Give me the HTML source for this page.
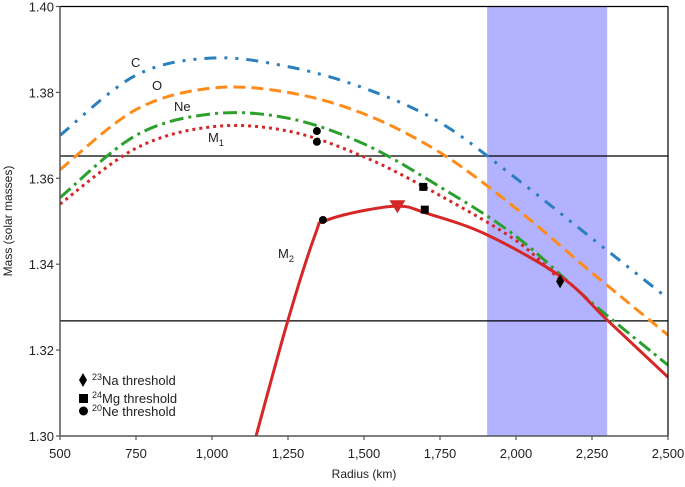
<!DOCTYPE html>
<html><head><meta charset="utf-8"><style>
body{margin:0;background:#fff;}
svg{display:block;font-family:"Liberation Sans",Arial,sans-serif;}
</style></head><body>
<svg id="chart" width="685" height="487" viewBox="0 0 685 487" xmlns="http://www.w3.org/2000/svg"></svg>
<script>
const xTicks=[500,750,1000,1250,1500,1750,2000,2250,2500];
const xTickLabels=["500","750","1,000","1,250","1,500","1,750","2,000","2,250","2,500"];
const yTicks=[1.30,1.32,1.34,1.36,1.38,1.40];
const yTickLabels=["1.30","1.32","1.34","1.36","1.38","1.40"];
const radiusC=[500,750,1000,1250,1500,1750,2000,2250,2500];
const massC=[1.370,1.384,1.388,1.386,1.381,1.373,1.360,1.346,1.332];
const radiusO=[500,750,1000,1250,1500,1750,2000,2250,2500];
const massO=[1.362,1.376,1.381,1.380,1.375,1.366,1.353,1.338,1.3235];
const radiusNe=[500,750,1000,1250,1500,1750,2000,2250,2500];
const massNe=[1.3555,1.370,1.375,1.374,1.368,1.358,1.3465,1.331,1.3165];
const radiusM1=[500,750,1000,1250,1500,1750,2000,2150];
const massM1=[1.354,1.367,1.372,1.371,1.365,1.356,1.3455,1.336];
const radiusM2=[1145,1250,1340,1370,1500,1620,1700,1900,2150,2300,2500];
const massM2=[1.300,1.327,1.347,1.350,1.3525,1.3535,1.352,1.347,1.337,1.327,1.3137];
const hLines=[1.3652,1.3268];
const band=[1905,2300];
const circles=[[1345,1.371],[1345,1.3685],[1365,1.3503]];
const squares=[[1695,1.358],[1700,1.3527]];
const diamonds=[[2145,1.336]];
const triangle=[1610,1.3535];

const X0=60,X1=668,Y0=436,Y1=6.5;
const xs=r=>X0+(r-500)*(X1-X0)/2000;
const ys=m=>Y0-(m-1.30)*(Y0-Y1)/0.10;
const svg=document.getElementById('chart');
const NS='http://www.w3.org/2000/svg';
function mk(t,a,p){const e=document.createElementNS(NS,t);for(const k in a)e.setAttribute(k,a[k]);(p||svg).appendChild(e);return e;}

let e=mk('rect',{x:xs(band[0]),y:Y1,width:xs(band[1])-xs(band[0]),height:Y0-Y1,fill:'#b2b2ff'});


hLines.forEach((m,i)=>{const l=mk('line',{x1:X0,x2:X1,y1:ys(m),y2:ys(m),stroke:'#000','stroke-width':1.3});

});

function series(rs,ms,color,dash,name,cap){
 let pts=rs.map((r,i)=>[xs(r),ys(ms[i])]);let p='M'+pts[0];
 for(let i=0;i<pts.length-1;i++){const a=pts[i-1]||pts[i],b=pts[i],c=pts[i+1],dd=pts[i+2]||c;
  p+=' C'+(b[0]+(c[0]-a[0])/6)+','+(b[1]+(c[1]-a[1])/6)+' '+(c[0]-(dd[0]-b[0])/6)+','+(c[1]-(dd[1]-b[1])/6)+' '+c[0]+','+c[1];}
 const el=mk('path',{d:p,fill:'none',stroke:color,'stroke-width':3,'stroke-dasharray':dash,'stroke-linecap':cap||'butt'});
 
 
}
const clip=mk('clipPath',{id:'c'});mk('rect',{x:X0,y:Y1,width:X1-X0,height:Y0-Y1},clip);
series(radiusC,massC,'#2a7fbf','12 8 3 8 3 8','series-C');
series(radiusO,massO,'#ff8c1a','12 6','series-O');
series(radiusNe,massNe,'#2ca02c','14 5 3 5','series-Ne');
series(radiusM1,massM1,'#d62728','3 4','series-M1');
series(radiusM2,massM2,'#d62728','','series-M2');
svg.querySelectorAll('path').forEach(p=>p.setAttribute('clip-path','url(#c)'));

circles.forEach((c,i)=>{const el=mk('circle',{cx:xs(c[0]),cy:ys(c[1]),r:4,fill:'#000'});

});
squares.forEach((c,i)=>{const el=mk('rect',{x:xs(c[0])-4,y:ys(c[1])-4,width:8,height:8,fill:'#000'});

});
diamonds.forEach((c,i)=>{const x=xs(c[0]),y=ys(c[1]);const el=mk('polygon',{points:`${x},${y-7} ${x+4},${y} ${x},${y+7} ${x-4},${y}`,fill:'#000'});

});
{const x=xs(triangle[0]),y=ys(triangle[1]);const el=mk('polygon',{points:`${x-8},${y-6} ${x+8},${y-6} ${x},${y+7}`,fill:'#d62728'});

}

mk('line',{x1:X0,x2:X1,y1:Y1,y2:Y1,stroke:'#000','stroke-width':1.2});
mk('line',{x1:X1,x2:X1,y1:Y1,y2:Y0,stroke:'#000','stroke-width':1.2});
const xa=mk('line',{x1:X0,x2:X1,y1:Y0,y2:Y0,stroke:'#555','stroke-width':1.5});


const ya=mk('line',{x1:X0,x2:X0,y1:Y1,y2:Y0,stroke:'#555','stroke-width':1.5});


xTicks.forEach((t,i)=>{mk('line',{x1:xs(t),x2:xs(t),y1:Y0,y2:Y0+4,stroke:'#555','stroke-width':1.2});
const tx=mk('text',{x:xs(t),y:Y0+22,'text-anchor':'middle','font-size':13,fill:'#222'});tx.textContent=xTickLabels[i];

});
yTicks.forEach((t,i)=>{mk('line',{x1:X0-4,x2:X0,y1:ys(t),y2:ys(t),stroke:'#555','stroke-width':1.2});
const tx=mk('text',{x:X0-6,y:ys(t)+5,'text-anchor':'end','font-size':13,fill:'#222'});tx.textContent=yTickLabels[i];

});
</script>
<svg style="position:absolute;left:0;top:0" width="685" height="487" font-family="Liberation Sans, Arial, sans-serif" fill="#222">
<text x="364" y="478" text-anchor="middle" font-size="12">Radius (km)</text>
<text transform="translate(12,221) rotate(-90)" text-anchor="middle" font-size="12">Mass (solar masses)</text>
<text x="131" y="67" font-size="13">C</text>
<text x="152" y="90" font-size="13">O</text>
<text x="174" y="111" font-size="13">Ne</text>
<text x="208" y="142" font-size="13">M<tspan font-size="9" dy="4">1</tspan></text>
<text x="278" y="258" font-size="13">M<tspan font-size="9" dy="4">2</tspan></text>
<g font-size="13">
<polygon points="83,373 87,380 83,387 79,380" fill="#000"/>
<text x="92" y="385"><tspan font-size="9" dy="-5">23</tspan><tspan dy="5">Na threshold</tspan></text>
<rect x="79" y="394" width="9" height="9" fill="#000"/>
<text x="92" y="403"><tspan font-size="9" dy="-5">24</tspan><tspan dy="5">Mg threshold</tspan></text>
<circle cx="83.5" cy="411" r="4.5" fill="#000"/>
<text x="92" y="416"><tspan font-size="9" dy="-5">20</tspan><tspan dy="5">Ne threshold</tspan></text>
</g>
</svg>
</body></html>
